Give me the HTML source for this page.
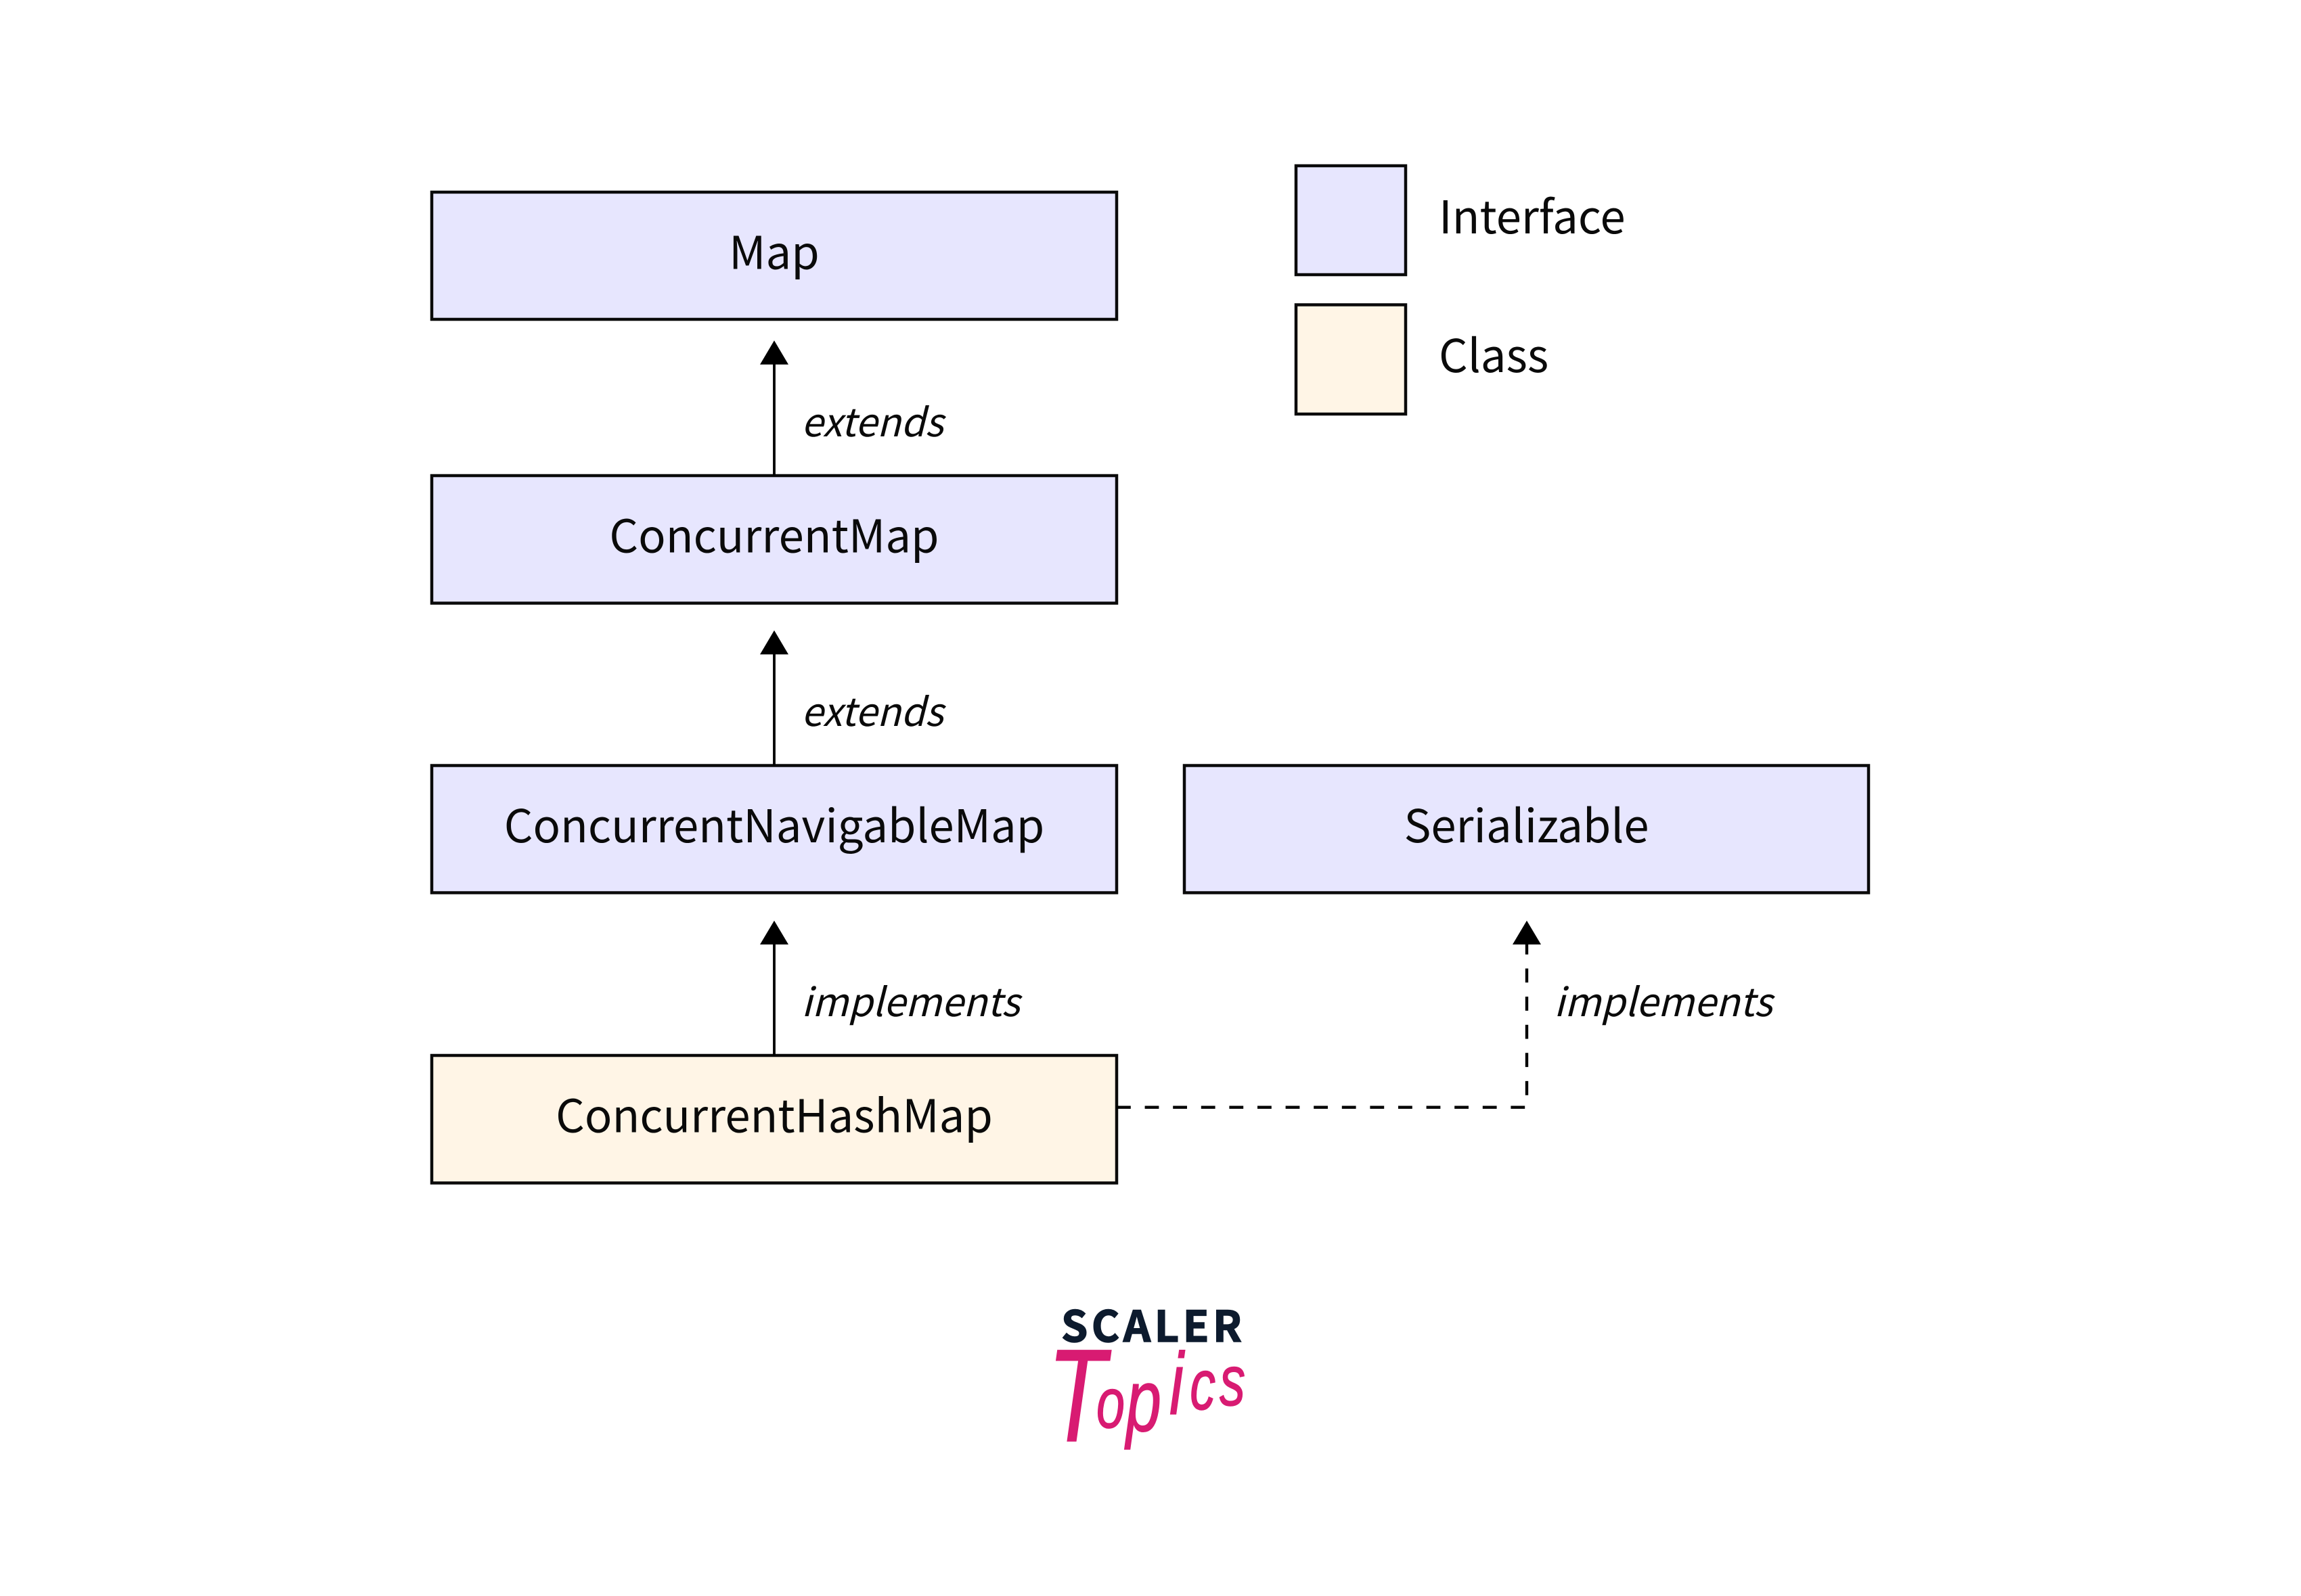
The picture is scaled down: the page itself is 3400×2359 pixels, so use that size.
<!DOCTYPE html>
<html><head><meta charset="utf-8"><style>
html,body{margin:0;padding:0;background:#fff}
svg{display:block}
text{font-family:"Noto Sans CJK JP","Liberation Sans",sans-serif;fill:#0a0a0a}
.n{font-size:67px;text-anchor:middle}
.l{font-size:67px}
.i{font-size:57.8px;font-style:italic}
</style></head><body>
<svg width="3400" height="2359" viewBox="0 0 3400 2359" xmlns="http://www.w3.org/2000/svg">
<rect width="3400" height="2359" fill="#fff"/>
<g stroke="#0a0a0a" stroke-width="4.5">
<rect x="638" y="284" width="1012" height="188" fill="#E7E6FE"/>
<rect x="638" y="703" width="1012" height="188.5" fill="#E7E6FE"/>
<rect x="638" y="1131.5" width="1012" height="188" fill="#E7E6FE"/>
<rect x="1750" y="1131.5" width="1011" height="188" fill="#E7E6FE"/>
<rect x="638" y="1560" width="1012" height="188.5" fill="#FFF5E6"/>
<rect x="1915" y="245" width="162" height="161" fill="#E7E6FE"/>
<rect x="1915" y="450.5" width="162" height="161.5" fill="#FFF5E6"/>
</g>
<g stroke="#000" stroke-width="3.8" fill="none">
<path d="M1144 535V703M1144 965V1131.5M1144 1393V1560"/>
<path d="M1650 1636.7H2256V1392" stroke-dasharray="20.8 20.8" stroke-width="4.4"/>
</g>
<g fill="#000">
<path d="M1144 503.3L1165 538.7H1123Z"/>
<path d="M1144 931.8L1165 967.2H1123Z"/>
<path d="M1144 1360.7L1165 1396H1123Z"/>
<path d="M2256 1360.7L2277 1396H2235Z"/>
</g>
<text class="n" x="1144" y="397.5">Map</text>
<text class="n" x="1144" y="816.5">ConcurrentMap</text>
<text class="n" x="1144" y="1245">ConcurrentNavigableMap</text>
<text class="n" x="2255.5" y="1245">Serializable</text>
<text class="n" x="1144" y="1673.5">ConcurrentHashMap</text>
<text class="l" x="2126" y="345">Interface</text>
<text class="l" x="2126" y="550">Class</text>
<text class="i" x="1184" y="645">extends</text>
<text class="i" x="1184" y="1073">extends</text>
<text class="i" x="1184" y="1502">implements</text>
<text class="i" x="2296" y="1502">implements</text>
<text x="1568" y="1983" textLength="267" style="font-family:'Noto Sans CJK JP','Liberation Sans',sans-serif;font-weight:700;font-size:63px;fill:#0D1B2E;stroke:#0D1B2E;stroke-width:1.5px">SCALER</text>
<g transform="scale(.72 1)">
<text style="font-family:'Liberation Sans',sans-serif;font-style:italic;fill:#D81B72;stroke:#D81B72;stroke-width:1.5px"><tspan x="2150" y="2130" font-size="195">T</tspan><tspan x="2250" y="2110" font-size="105">o</tspan><tspan x="2311" y="2115" font-size="130">p</tspan><tspan x="2400" y="2090" font-size="130">i</tspan><tspan x="2442" y="2083" font-size="105">c</tspan><tspan x="2503" y="2077" font-size="105">s</tspan></text>
</g>
</svg>
</body></html>
